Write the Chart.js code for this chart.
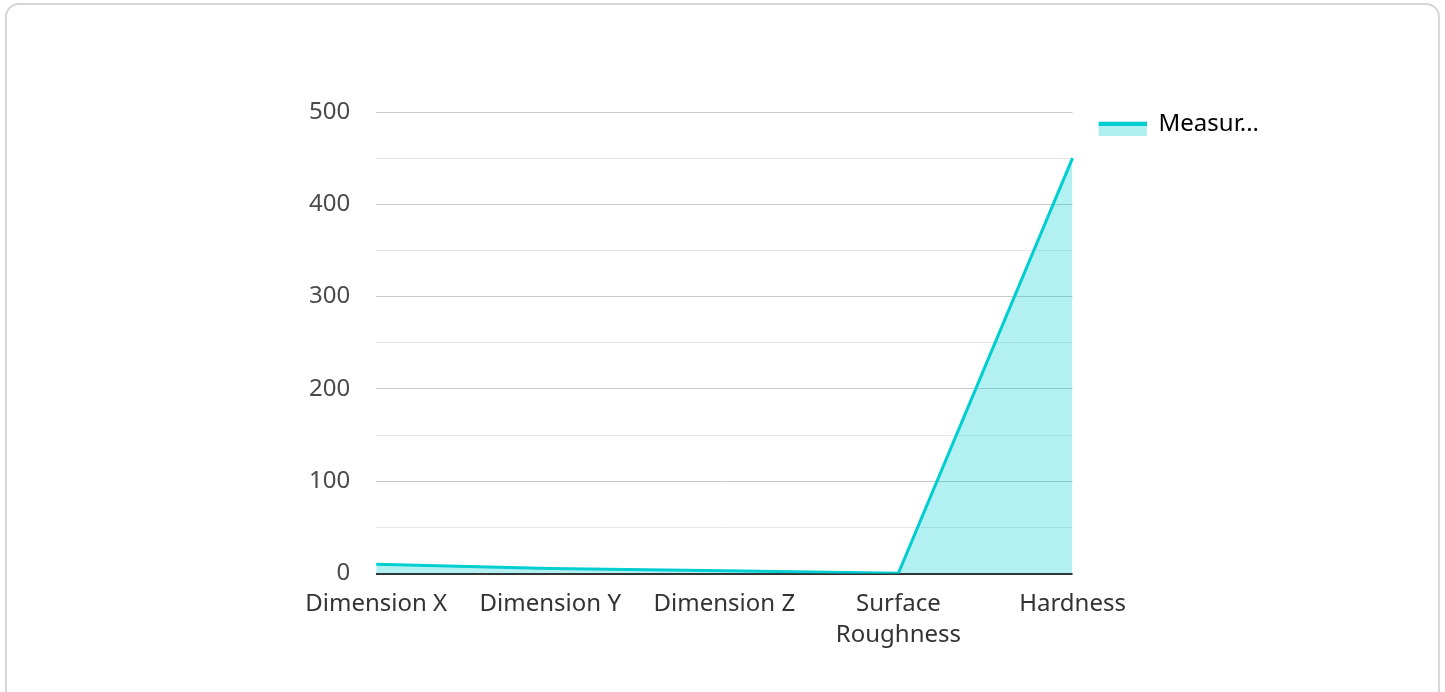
<!DOCTYPE html>
<html>
<head>
<meta charset="utf-8">
<script src="https://cdn.jsdelivr.net/npm/chart.js@4.4.1/dist/chart.umd.min.js"></script>
<style>
  html, body { margin: 0; padding: 0; background: #fff; }
  body { width: 1445px; height: 692px; position: relative; overflow: hidden; }
  .card {
    position: absolute; left: 5px; top: 3px; width: 1431px; height: 720px;
    border: 2px solid #d6d6d6; border-radius: 14px; background: #fff;
  }
  #wrap { position: absolute; left: 0; top: 0; width: 1445px; height: 692px; }
</style>
</head>
<body>
<div class="card"></div>
<div id="wrap"><canvas id="chart"></canvas></div>
<script>
// data
var categories = ['Dimension X', 'Dimension Y', 'Dimension Z', 'Surface Roughness', 'Hardness'];
var measured = [10, 5.5, 3, 0.5, 450];
var seriesName = 'Measured Value';
var yTicks = [0, 100, 200, 300, 400, 500];

var lineColor = '#00ced1';
var fillColor = 'rgba(0, 206, 209, 0.3)';

// legend swatch: thick line on top of a light fill block, with a blank gap on the left
function makeSwatch() {
  var c = document.createElement('canvas');
  c.width = 74; c.height = 24;
  var g = c.getContext('2d');
  g.fillStyle = '#b2eff0';
  g.fillRect(26, 9, 48, 15);
  g.fillStyle = lineColor;
  g.fillRect(26, 10, 48, 4);
  return c;
}
var swatch = makeSwatch();

function shorten(s) {
  return s.length > 6 ? s.slice(0, 6) + '...' : s;
}

function wrapLabel(s) {
  if (s.length <= 12) return s;
  return s.split(' ');
}

Chart.defaults.font.family = '"Noto Sans", sans-serif';
Chart.defaults.font.size = 24;

new Chart(document.getElementById('chart'), {
  type: 'line',
  data: {
    labels: categories,
    datasets: [{
      label: seriesName,
      data: measured,
      borderColor: lineColor,
      backgroundColor: fillColor,
      borderWidth: 3,
      fill: 'origin',
      tension: 0,
      pointRadius: 0,
      pointHoverRadius: 0
    }]
  },
  options: {
    responsive: true,
    maintainAspectRatio: false,
    animation: false,
    layout: { padding: { left: 283, right: 176, top: 112, bottom: 34 } },
    plugins: {
      tooltip: { enabled: false },
      legend: {
        position: 'right',
        align: 'start',
        labels: {
          usePointStyle: true,
          pointStyleWidth: 74,
          padding: 0,
          color: '#333',
          font: { size: 24 },
          generateLabels: function (chart) {
            return chart.data.datasets.map(function (ds, i) {
              return {
                text: shorten(ds.label),
                pointStyle: swatch,
                fillStyle: fillColor,
                strokeStyle: lineColor,
                lineWidth: 0,
                hidden: false,
                datasetIndex: i
              };
            });
          }
        }
      }
    },
    scales: {
      x: {
        offset: false,
        grid: { display: false },
        border: { display: false },
        ticks: {
          color: '#333',
          padding: 7,
          maxRotation: 0,
          autoSkip: false,
          font: { size: 24, lineHeight: 1.3 },
          callback: function (v) { return wrapLabel(this.getLabelForValue(v)); }
        }
      },
      y: {
        min: 0,
        max: yTicks[yTicks.length - 1],
        border: { display: false },
        grid: {
          drawTicks: false,
          lineWidth: function (ctx) { return ctx.tick && ctx.tick.value === 0 ? 2 : 1; },
          color: function (ctx) {
            if (!ctx.tick) return '#e6e6e6';
            if (ctx.tick.value === 0) return '#333';
            return yTicks.indexOf(ctx.tick.value) >= 0 ? '#c8c8c8' : '#e6e6e6';
          }
        },
        ticks: {
          stepSize: 50,
          color: '#4a4a4a',
          padding: 26,
          callback: function (v) { return yTicks.indexOf(v) >= 0 ? v : ''; }
        }
      }
    }
  }
});
</script>
</body>
</html>
